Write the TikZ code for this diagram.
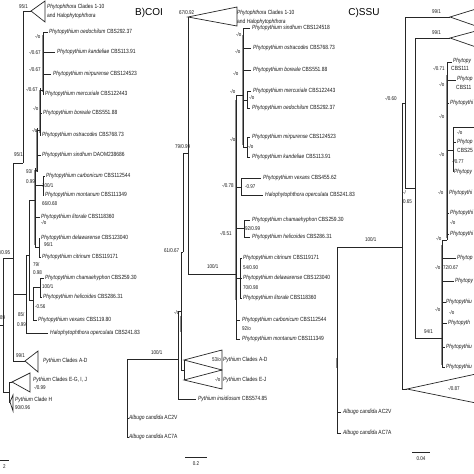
\documentclass[tikz,border=0pt]{standalone}
\usepackage{fontspec}
\setmainfont{Liberation Sans}
\newfontfamily\narrowsans[FakeStretch=0.82]{Liberation Sans}
\newcommand\myspf{\narrowsans\fontsize{6}{7}\selectfont}
\newcommand\mylbf{\narrowsans\fontsize{5.5}{6}\selectfont}
\newcommand\myttl{\fontsize{10}{12}\selectfont}
\newcommand\mysp[2]{\textit{#1} #2}
\tikzset{
  br/.style={line width=0.7pt, draw=black!85},
  gb/.style={line width=2pt, draw=black!45},
  sp/.style={anchor=west, inner sep=0pt, font=\myspf, text=black!90},
  lb/.style={anchor=west, inner sep=0pt, font=\mylbf, text=black!90},
  tri/.style={draw=black!85, line width=0.7pt, line join=miter},
}
\begin{document}
\begin{tikzpicture}[x=1pt,y=-1pt]
\useasboundingbox (0,0) rectangle (474,474);
\clip (0,0) rectangle (474,474);
\fill[white] (0,0) rectangle (474,474);

% ================= Panel A =================
\draw[gb] (43,35) -- (43,92);
\draw[gb] (40,90) -- (40,133);
\draw[gb] (37,130) -- (37,172);
\draw[gb] (35,170) -- (35,245);
\draw[tri] (31,11) -- (45,1) -- (45,22) -- cycle;
\draw[br] (23,11) -- (31,11);
\draw[br] (23,11) -- (23,163);
\draw[br] (13,163) -- (23,163);
\draw[br] (13,163) -- (13,361);
\draw[br] (13,361) -- (25,361);
\draw[tri] (25,361) -- (38,351) -- (38,372) -- cycle;
\draw[br] (3,258) -- (13,258);
\draw[br] (3,258) -- (3,392);
\draw[br] (0,325) -- (3,325);
\draw[br] (3,392) -- (9,392);
\draw[br] (9,382) -- (9,402);
\draw[br] (9,382) -- (12,382);
\draw[tri] (12,382) -- (30,373) -- (30,392) -- cycle;
\draw[br] (9,402) -- (10,402);
\draw[tri] (10,402) -- (13,395) -- (13,411) -- cycle;
% Phytopythium A
\draw[br] (13,294) -- (26,294);
\draw[br] (26,255) -- (26,333);
\draw[br] (26,333) -- (48,333);
\draw[br] (26,255) -- (29,255);
\draw[br] (29,200) -- (29,300);
\draw[br] (29,200) -- (35,200);
\draw[br] (43,32) -- (43,94);
\draw[br] (40,90) -- (43,90);
\draw[br] (40,88) -- (40,135);
\draw[br] (37,130) -- (40,130);
\draw[br] (37,128) -- (37,172);
\draw[br] (35,170) -- (37,170);
\draw[br] (35,168) -- (35,247);
\draw[br] (43,32) -- (48,32);
\draw[br] (43,52) -- (55,52);
\draw[br] (43,74) -- (51,74);
\draw[br] (43,94) -- (44,94);
\draw[br] (40,113) -- (42,113);
\draw[br] (40,135) -- (41,135);
\draw[br] (37,155) -- (41,155);
\draw[br] (35,185) -- (43,185);
\draw[br] (43,176) -- (43,195);
\draw[br] (43,176) -- (45,176);
\draw[br] (43,195) -- (44,195);
\draw[br] (35,217) -- (40,217);
\draw[br] (35,247) -- (39,247);
\draw[br] (39,238) -- (39,257);
\draw[br] (39,238) -- (40,238);
\draw[br] (39,257) -- (41,257);
\draw[br] (29,300) -- (33,300);
\draw[br] (33,287) -- (33,320);
\draw[br] (33,320) -- (37,320);
\draw[br] (33,287) -- (40,287);
\draw[br] (40,278) -- (40,297);
\draw[br] (40,278) -- (44,278);
\draw[br] (40,297) -- (42,297);
\draw[br] (0,460) -- (9,460);

\node[sp] (aT1) at (47,7) {\textit{Phytophthora} Clades 1-10};
\node[sp] (aT2) at (47,16) {and \textit{Halophytophthora}};
\node[sp] (aL1) at (49,32) {\mysp{Phytopythium oedochilum}{CBS292.37}};
\node[sp] (aL2) at (57,52) {\mysp{Phytopythium kandeliae}{CBS113.91}};
\node[sp] (aL3) at (53,74) {\mysp{Phytopythium mirpurense}{CBS124523}};
\node[sp] (aL4) at (45,94) {\mysp{Phytopythium mercuriale}{CBS122443}};
\node[sp] (aL5) at (43,113) {\mysp{Phytopythium boreale}{CBS551.88}};
\node[sp] (aL6) at (42,135) {\mysp{Phytopythium ostracodes}{CBS768.73}};
\node[sp] (aL7) at (42,155) {\mysp{Phytopythium sindhum}{DAOM238686}};
\node[sp] (aL8) at (46,176) {\mysp{Phytopythium carbonicum}{CBS112544}};
\node[sp] (aL9) at (45,195) {\mysp{Phytopythium montanum}{CBS111349}};
\node[sp] (aL10) at (41,217) {\mysp{Phytopythium litorale}{CBS118360}};
\node[sp] (aL11) at (41,238) {\mysp{Phytopythium delawarense}{CBS123040}};
\node[sp] (aL12) at (42,257) {\mysp{Phytopythium citrinum}{CBS119171}};
\node[sp] (aL13) at (45,278) {\mysp{Phytopythium chamaehyphon}{CBS259.30}};
\node[sp] (aL14) at (43,297) {\mysp{Phytopythium helicoides}{CBS286.31}};
\node[sp] (aL15) at (38,320) {\mysp{Phytopythium vexans}{CBS119.80}};
\node[sp] (aL16) at (50,333) {\mysp{Halophytophthora operculata}{CBS241.83}};
\node[sp] (aL17) at (43,361) {\textit{Pythium} Clades A-D};
\node[sp] (aL18) at (33,380) {\textit{Pythium} Clades E-G, I, J};
\node[sp] (aL19) at (15,400) {\textit{Pythium} Clade H};

\node[lb] (aB1) at (19,7) {95/1};
\node[lb] (aB2) at (35,37) {-/o};
\node[lb] (aB3) at (29,53) {-/0.67};
\node[lb] (aB4) at (29,70) {-/0.67};
\node[lb] (aB5) at (26,90) {-/0.67};
\node[lb] (aB6) at (33,109) {-/o};
\node[lb] (aB7) at (32,131) {-/o};
\node[lb] (aB8) at (14,155) {95/1};
\node[lb] (aB9) at (26,172) {93/};
\node[lb] (aB10) at (26,182) {0.99};
\node[lb] (aB11) at (42,186) {100/1};
\node[lb] (aB12) at (42,204) {66/0.68};
\node[lb] (aB13) at (41,223) {-/o};
\node[lb] (aB14) at (44,245) {96/1};
\node[lb] (aB15) at (33,265) {79/};
\node[lb] (aB16) at (33,273) {0.98};
\node[lb] (aB17) at (42,287) {100/1};
\node[lb] (aB18) at (35,307) {-0.56};
\node[lb] (aB19) at (18,315) {85/};
\node[lb] (aB20) at (17,325) {0.99};
\node[lb] (aB21) at (16,356) {99/1};
\node[lb] (aB22) at (34,388) {-/0.99};
\node[lb] (aB23) at (15,408) {90/0.96};
\node[lb] (aB24) at (0,253) {/0.95};
\node[lb] (aB25) at (0,318) {89};
\node[lb] (aB26) at (3,467) {2};

% ================= Panel B =================
\node[inner sep=0pt, font=\myttl] (bTitle) at (149,13) {B)COI};
\draw[gb] (243,35) -- (243,145);
\draw[gb] (236,100) -- (236,300);
\draw[gb] (181,316) -- (181,332);
\draw[tri] (188,17) -- (237,7) -- (237,26) -- cycle;
\draw[tri] (184,360) -- (222,350) -- (222,370) -- cycle;
\draw[tri] (184,380) -- (222,370) -- (222,389) -- cycle;
\draw[br] (188,17) -- (188,274);
\draw[br] (183,153) -- (188,153);
\draw[br] (183,153) -- (183,252);
\draw[br] (181,252) -- (183,252);
\draw[br] (181,252) -- (181,370);
\draw[br] (181,370) -- (184,370);
\draw[br] (184,360) -- (184,380);
\draw[br] (178,311) -- (181,311);
\draw[br] (178,311) -- (178,399);
\draw[br] (178,399) -- (196,399);
\draw[br] (127,359) -- (178,359);
\draw[br] (127,359) -- (127,437);
\draw[br] (127,418) -- (129,418);
\draw[br] (127,437) -- (129,437);
\draw[br] (188,274) -- (236,274);
\draw[br] (236,95) -- (236,339);
\draw[br] (236,95) -- (243,95);
\draw[br] (243,28) -- (243,147);
\draw[br] (243,28) -- (250,28);
\draw[br] (243,48) -- (251,48);
\draw[br] (243,70) -- (251,70);
\draw[br] (243,100) -- (247,100);
\draw[br] (247,91) -- (247,108);
\draw[br] (247,91) -- (251,91);
\draw[br] (247,108) -- (250,108);
\draw[br] (243,147) -- (247,147);
\draw[br] (247,137) -- (247,157);
\draw[br] (247,137) -- (250,137);
\draw[br] (247,157) -- (250,157);
\draw[br] (236,187) -- (241,187);
\draw[br] (241,178) -- (241,195);
\draw[br] (241,178) -- (261,178);
\draw[br] (241,195) -- (263,195);
\draw[br] (236,228) -- (244,228);
\draw[br] (244,220) -- (244,237);
\draw[br] (244,220) -- (250,220);
\draw[br] (244,237) -- (250,237);
\draw[br] (236,278) -- (240,278);
\draw[br] (240,258) -- (240,298);
\draw[br] (240,258) -- (242,258);
\draw[br] (240,278) -- (242,278);
\draw[br] (240,298) -- (242,298);
\draw[br] (236,320) -- (240,320);
\draw[br] (236,339) -- (240,339);
\draw[br] (185,457) -- (207,457);

\node[sp] (bT1) at (237,13) {\textit{Phytophthora} Clades 1-10};
\node[sp] (bT2) at (237,22) {and \textit{Halophytophthora}};
\node[sp] (bL1) at (252,28) {\mysp{Phytopythium sindhum}{CBS124518}};
\node[sp] (bL2) at (253,48) {\mysp{Phytopythium ostracodes}{CBS768.73}};
\node[sp] (bL3) at (253,70) {\mysp{Phytopythium boreale}{CBS551.88}};
\node[sp] (bL4) at (253,91) {\mysp{Phytopythium mercuriale}{CBS122443}};
\node[sp] (bL5) at (252,108) {\mysp{Phytopythium oedochilum}{CBS292.37}};
\node[sp] (bL6) at (252,137) {\mysp{Phytopythium mirpurense}{CBS124523}};
\node[sp] (bL7) at (252,157) {\mysp{Phytopythium kandeliae}{CBS113.91}};
\node[sp] (bL8) at (263,178) {\mysp{Phytopythium vexans}{CBS455.62}};
\node[sp] (bL9) at (265,195) {\mysp{Halophytophthora operculata}{CBS241.83}};
\node[sp] (bL10) at (252,220) {\mysp{Phytopythium chamaehyphon}{CBS259.30}};
\node[sp] (bL11) at (252,237) {\mysp{Phytopythium helicoides}{CBS286.31}};
\node[sp] (bL12) at (243,258) {\mysp{Phytopythium citrinum}{CBS119171}};
\node[sp] (bL13) at (243,278) {\mysp{Phytopythium delawarense}{CBS123040}};
\node[sp] (bL14) at (243,298) {\mysp{Phytopythium litorale}{CBS118360}};
\node[sp] (bL15) at (242,320) {\mysp{Phytopythium carbonicum}{CBS112544}};
\node[sp] (bL16) at (242,339) {\mysp{Phytopythium montanum}{CBS111349}};
\node[sp] (bL17) at (223,360) {\textit{Pythium} Clades A-D};
\node[sp] (bL18) at (223,380) {\textit{Pythium} Clades E-J};
\node[sp] (bL19) at (198,399) {\mysp{Pythium insidiosum}{CBS574.85}};
\node[sp] (bL20) at (129,418) {\mysp{Albugo candida}{AC2V}};
\node[sp] (bL21) at (129,437) {\mysp{Albugo candida}{AC7A}};

\node[lb] (bB1) at (179,13) {67/0.92};
\node[lb] (bB2) at (175,147) {79/0.99};
\node[lb] (bB3) at (222,186) {-/0.78};
\node[lb] (bB4) at (220,234) {-/0.51};
\node[lb] (bB5) at (164,251) {61/0.67};
\node[lb] (bB6) at (207,267) {100/1};
\node[lb] (bB7) at (174,313) {-/o};
\node[lb] (bB8) at (151,353) {100/1};
\node[lb] (bB9) at (212,360) {53/o};
\node[lb] (bB10) at (215,380) {-/o};
\node[lb] (bB11) at (236,35) {-/o};
\node[lb] (bB12) at (235,52) {-/o};
\node[lb] (bB13) at (233,74) {-/o};
\node[lb] (bB14) at (249,98) {-/o};
\node[lb] (bB15) at (230,92) {-/o};
\node[lb] (bB16) at (248,147) {-/o};
\node[lb] (bB17) at (230,140) {-/o};
\node[lb] (bB18) at (245,187) {-0.97};
\node[lb] (bB19) at (245,229) {92/0.99};
\node[lb] (bB20) at (243,268) {54/0.90};
\node[lb] (bB21) at (243,288) {70/0.98};
\node[lb] (bB22) at (242,329) {92/o};
\node[lb, anchor=center] (bB23) at (196,464) {0.2};

% ================= Panel C =================
\node[inner sep=0pt, font=\myttl] (cTitle) at (364,13) {C)SSU};
\draw[gb] (447,75) -- (447,238);
\draw[gb] (442,245) -- (442,365);
\draw[gb] (337,358) -- (337,368);
\draw[br] (405,17) -- (450,17);
\draw[tri] (476,9) -- (450,17) -- (476,26);
\draw[br] (415,38) -- (450,38);
\draw[tri] (476,31) -- (450,38) -- (476,47);
\draw[br] (405,17) -- (405,188);
\draw[br] (402,103) -- (405,103);
\draw[br] (405,188) -- (415,188);
\draw[br] (415,38) -- (415,338);
\draw[br] (415,338) -- (442,338);
\draw[br] (402,103) -- (402,389);
\draw[br] (402,389) -- (407,389);
\draw[tri] (476,374) -- (407,389) -- (476,403);
\draw[br] (337,247) -- (402,247);
\draw[br] (337,247) -- (337,433);
\draw[br] (337,412) -- (341,412);
\draw[br] (337,433) -- (341,433);
\draw[br] (447,62) -- (447,240);
\draw[br] (442,240) -- (447,240);
\draw[br] (442,240) -- (442,367);
\draw[br] (447,62) -- (452,62);
\draw[br] (447,80) -- (456,80);
\draw[br] (447,103) -- (449,103);
\draw[br] (447,193) -- (448,193);
\draw[br] (447,213) -- (449,213);
\draw[br] (447,234) -- (449,234);
\draw[br] (447,150) -- (453,150);
\draw[br] (453,127) -- (453,172);
\draw[br] (453,127) -- (476,127);
\draw[br] (453,142) -- (456,142);
\draw[br] (442,258) -- (456,258);
\draw[br] (442,281) -- (454,281);
\draw[br] (442,302) -- (446,302);
\draw[br] (442,323) -- (447,323);
\draw[br] (442,347) -- (445,347);
\draw[br] (442,367) -- (445,367);
\draw[br] (412,452) -- (430,452);

\node[sp] (cL1) at (453,61) {\textit{Phytopy}};
\node[sp] (cL1b) at (451,68) {CBS111};
\node[sp] (cL2) at (457,79) {\textit{Phytop}};
\node[sp] (cL2b) at (456,87) {CBS11};
\node[sp] (cL3) at (450,103) {\textit{Phytopythi}};
\node[sp] (cL4) at (457,142) {\textit{Phytop}};
\node[sp] (cL4b) at (457,150) {CBS25};
\node[sp] (cL5) at (454,172) {\textit{Phytopy}};
\node[sp] (cL6) at (449,193) {\textit{Phytopythi}};
\node[sp] (cL7) at (450,213) {\textit{Phytopythi}};
\node[sp] (cL8) at (450,234) {\textit{Phytopythi}};
\node[sp] (cL9) at (457,258) {\textit{Phytop}};
\node[sp] (cL10) at (455,281) {\textit{Phytopy}};
\node[sp] (cL11) at (446,302) {\textit{Phytopythiu}};
\node[sp] (cL12) at (448,323) {\textit{Phytopyth}};
\node[sp] (cL13) at (446,347) {\textit{Phytopythiu}};
\node[sp] (cL14) at (446,367) {\textit{Phytopythiu}};
\node[sp] (cL15) at (343,412) {\mysp{Albugo candida}{AC2V}};
\node[sp] (cL16) at (343,433) {\mysp{Albugo candida}{AC7A}};

\node[lb] (cB1) at (432,12) {99/1};
\node[lb] (cB2) at (432,33) {99/1};
\node[lb] (cB3) at (385,99) {-/0.60};
\node[lb] (cB4) at (403,193) {-/};
\node[lb] (cB5) at (403,202) {0.65};
\node[lb] (cB6) at (365,240) {100/1};
\node[lb] (cB7) at (448,389) {-/0.87};
\node[lb] (cB8) at (424,332) {94/1};
\node[lb] (cB9) at (433,69) {-/0.71};
\node[lb] (cB10) at (439,85) {-/o};
\node[lb] (cB11) at (439,117) {-/o};
\node[lb] (cB12) at (457,133) {-/o};
\node[lb] (cB13) at (439,155) {-/o};
\node[lb] (cB14) at (452,162) {-/0.77};
\node[lb] (cB15) at (438,193) {-/o};
\node[lb] (cB16) at (450,223) {-/o};
\node[lb] (cB17) at (436,239) {-/o};
\node[lb] (cB18) at (435,268) {-/o};
\node[lb] (cB19) at (443,268) {72/0.67};
\node[lb] (cB20) at (435,310) {-/o};
\node[lb] (cB21) at (449,313) {-/o};
\node[lb, anchor=center] (cB22) at (421,459) {0.04};
\end{tikzpicture}
\end{document}
